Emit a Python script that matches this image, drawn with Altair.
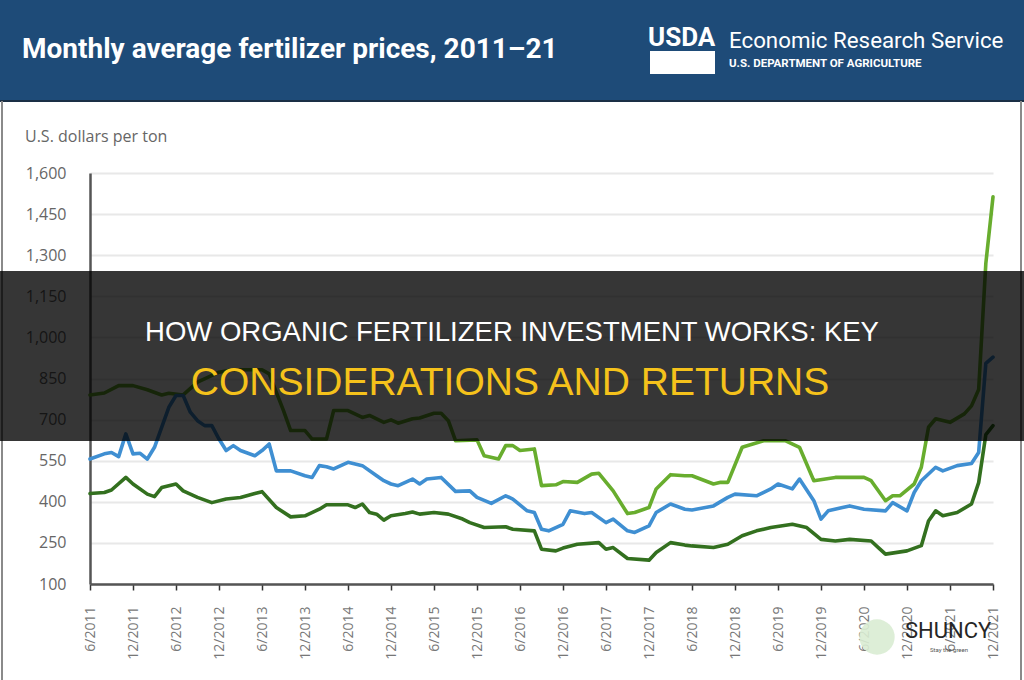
import altair as alt
import pandas as pd

# ---------------- data ----------------
series_names = ["Anhydrous ammonia", "Urea", "UAN28"]
series_colors = ["#68ad2e", "#3f8fd2", "#33701f"]

ammonia_dates = ["2011-06", "2011-08", "2011-10", "2011-12", "2012-02", "2012-04", "2012-05", "2012-07",
                 "2012-09", "2012-12", "2013-02", "2013-06", "2013-07", "2013-09", "2013-10", "2013-12",
                 "2014-01", "2014-03", "2014-04", "2014-06", "2014-08", "2014-09", "2014-11", "2014-12",
                 "2015-01", "2015-03", "2015-04", "2015-06", "2015-07", "2015-08", "2015-09", "2015-12",
                 "2016-01", "2016-03", "2016-04", "2016-05", "2016-06", "2016-08", "2016-09", "2016-11",
                 "2016-12", "2017-02", "2017-04", "2017-05", "2017-07", "2017-09", "2017-10", "2017-12",
                 "2018-01", "2018-03", "2018-05", "2018-06", "2018-09", "2018-10", "2018-11", "2019-01",
                 "2019-04", "2019-07", "2019-09", "2019-11", "2020-02", "2020-06", "2020-07", "2020-09",
                 "2020-10", "2020-11", "2021-01", "2021-02", "2021-03", "2021-04", "2021-06", "2021-08",
                 "2021-09", "2021-10", "2021-11", "2021-12"]
ammonia_values = [790, 797, 824, 824, 809, 790, 796, 790,
                  837, 873, 882, 882, 867, 733, 660, 660,
                  629, 629, 733, 733, 708, 715, 690, 699,
                  687, 703, 706, 723, 723, 696, 623, 626,
                  568, 556, 605, 605, 587, 593, 459, 462,
                  474, 471, 501, 504, 440, 357, 361, 379,
                  447, 499, 495, 495, 465, 471, 471, 599,
                  623, 623, 599, 477, 489, 489, 477, 404,
                  422, 422, 465, 526, 672, 703, 690, 721,
                  750, 810, 1270, 1513]

urea_dates = ["2011-06", "2011-08", "2011-09", "2011-10", "2011-11", "2011-12", "2012-01", "2012-02",
              "2012-03", "2012-05", "2012-06", "2012-07", "2012-08", "2012-09", "2012-10", "2012-11",
              "2012-12", "2013-01", "2013-02", "2013-03", "2013-05", "2013-06", "2013-07", "2013-08",
              "2013-10", "2013-12", "2014-01", "2014-02", "2014-03", "2014-04", "2014-06", "2014-08",
              "2014-10", "2014-11", "2014-12", "2015-01", "2015-03", "2015-04", "2015-05", "2015-07",
              "2015-09", "2015-11", "2015-12", "2016-02", "2016-04", "2016-05", "2016-07", "2016-08",
              "2016-09", "2016-10", "2016-12", "2017-01", "2017-03", "2017-04", "2017-06", "2017-07",
              "2017-09", "2017-10", "2017-12", "2018-01", "2018-03", "2018-05", "2018-06", "2018-09",
              "2018-11", "2018-12", "2019-03", "2019-05", "2019-06", "2019-08", "2019-09", "2019-11",
              "2019-12", "2020-01", "2020-03", "2020-04", "2020-06", "2020-09", "2020-10", "2020-12",
              "2021-01", "2021-02", "2021-04", "2021-05", "2021-07", "2021-09", "2021-10", "2021-11",
              "2021-12"]
urea_values = [556, 575, 580, 565, 648, 575, 577, 556,
               599, 745, 788, 788, 727, 696, 678, 678,
               629, 587, 605, 587, 568, 587, 611, 513,
               513, 495, 489, 532, 528, 520, 544, 532,
               495, 477, 465, 459, 483, 465, 483, 489,
               438, 440, 416, 394, 422, 410, 367, 361,
               300, 294, 318, 367, 357, 361, 324, 337,
               294, 288, 312, 361, 392, 373, 370, 385,
               416, 428, 422, 447, 465, 447, 483, 404,
               337, 367, 379, 385, 373, 367, 397, 367,
               434, 477, 526, 513, 532, 540, 580, 905,
               928]

uan_dates = ["2011-06", "2011-08", "2011-09", "2011-11", "2011-12", "2012-02", "2012-03", "2012-04",
             "2012-06", "2012-07", "2012-09", "2012-11", "2013-01", "2013-03", "2013-05", "2013-06",
             "2013-08", "2013-10", "2013-12", "2014-02", "2014-03", "2014-06", "2014-07", "2014-08",
             "2014-09", "2014-10", "2014-11", "2014-12", "2015-02", "2015-03", "2015-04", "2015-06",
             "2015-08", "2015-10", "2015-11", "2016-01", "2016-04", "2016-05", "2016-08", "2016-09",
             "2016-11", "2016-12", "2017-02", "2017-05", "2017-06", "2017-07", "2017-09", "2017-12",
             "2018-01", "2018-03", "2018-05", "2018-06", "2018-09", "2018-11", "2019-01", "2019-03",
             "2019-05", "2019-08", "2019-10", "2019-12", "2020-02", "2020-04", "2020-07", "2020-08",
             "2020-09", "2020-12", "2021-02", "2021-03", "2021-04", "2021-05", "2021-07", "2021-09",
             "2021-10", "2021-11", "2021-12"]
uan_values = [430, 434, 443, 489, 465, 428, 419, 452,
              465, 440, 416, 397, 410, 416, 430, 437,
              379, 345, 349, 373, 389, 389, 379, 392,
              361, 355, 333, 349, 357, 363, 355, 361,
              355, 337, 324, 306, 309, 300, 294, 227,
              221, 231, 245, 251, 227, 233, 193, 187,
              215, 251, 242, 239, 233, 245, 276, 294,
              306, 318, 306, 263, 257, 263, 257, 233,
              209, 221, 240, 330, 367, 349, 361, 392,
              470, 645, 678]

y_ticks = [100, 250, 400, 550, 700, 850, 1000, 1150, 1300, 1450, 1600]

title_text = "Monthly average fertilizer prices, 2011\u201321"
y_title = "U.S. dollars per ton"
overlay_line1 = "HOW ORGANIC FERTILIZER INVESTMENT WORKS: KEY"
overlay_line2 = "CONSIDERATIONS AND RETURNS"


def month_index(s):
    y, m = s.split("-")
    return (int(y) - 2011) * 12 + int(m) - 6


rows = []
for name, dates, vals in zip(series_names,
                             [ammonia_dates, urea_dates, uan_dates],
                             [ammonia_values, urea_values, uan_values]):
    for d, v in zip(dates, vals):
        rows.append({"series": name, "m": month_index(d), "price": v})
df = pd.DataFrame(rows)

one = pd.DataFrame({"k": [0]})

# plot area: left 90, top 173, width 903, height 411 (page is 1024x680)
W, H = 903, 411
PL, PT = 90, 173

label_font = "Open Sans"

lines = alt.Chart(df).mark_line(strokeWidth=3.6, strokeJoin="round", strokeCap="round").encode(
    x=alt.X("m:Q",
            scale=alt.Scale(domain=[0, 126], nice=False, zero=False),
            axis=alt.Axis(values=list(range(0, 127, 6)),
                          labelExpr="(datum.value % 12 == 0 ? '6/' : '12/') + (2011 + floor((datum.value + 5) / 12))",
                          labelAngle=-90, labelFont=label_font, labelFontSize=14, labelColor="#777777",
                          labelPadding=16, tickSize=6, tickColor="#333333", tickWidth=1.5,
                          domainColor="#555555", domainWidth=2.5, grid=False, title=None)),
    y=alt.Y("price:Q",
            scale=alt.Scale(domain=[100, 1600], nice=False, zero=False),
            axis=alt.Axis(values=y_ticks, format=",d", labelFont=label_font, labelFontSize=16,
                          labelColor="#666666", labelPadding=24, ticks=False, tickSize=0,
                          domainColor="#555555", domainWidth=2.5,
                          grid=True, gridColor="#e8e8e8", gridWidth=2, title=None)),
    color=alt.Color("series:N", scale=alt.Scale(domain=series_names, range=series_colors), legend=None),
)

header = alt.Chart(one).mark_rect(color="#1e4b78").encode(
    x=alt.value(-PL), x2=alt.value(1024 - PL), y=alt.value(-PT), y2=alt.value(101 - PT))

header_line = alt.Chart(one).mark_rule(color="#1a2f45", strokeWidth=2).encode(
    x=alt.value(-PL), x2=alt.value(1024 - PL), y=alt.value(101 - PT))

title = alt.Chart(one).mark_text(align="left", baseline="middle", font="Roboto", fontWeight="bold",
                                 fontSize=28, color="white").encode(
    x=alt.value(22 - PL), y=alt.value(50 - PT), text=alt.value(title_text))

usda_box = alt.Chart(one).mark_rect(color="white").encode(
    x=alt.value(650 - PL), x2=alt.value(715 - PL), y=alt.value(51 - PT), y2=alt.value(74 - PT))

usda = alt.Chart(one).mark_text(align="left", baseline="middle", font="Roboto", fontWeight="bold",
                                fontSize=26, color="white").encode(
    x=alt.value(648 - PL), y=alt.value(38 - PT), text=alt.value("USDA"))

ers = alt.Chart(one).mark_text(align="left", baseline="middle", font="Roboto",
                               fontSize=22.3, color="white").encode(
    x=alt.value(729 - PL), y=alt.value(41 - PT), text=alt.value("Economic Research Service"))

dept = alt.Chart(one).mark_text(align="left", baseline="middle", font="Roboto", fontWeight="bold",
                                fontSize=11.5, color="white").encode(
    x=alt.value(729 - PL), y=alt.value(64 - PT), text=alt.value("U.S. DEPARTMENT OF AGRICULTURE"))

ytitle = alt.Chart(one).mark_text(align="left", baseline="middle", font=label_font,
                                  fontSize=16, color="#666666").encode(
    x=alt.value(25 - PL), y=alt.value(137 - PT), text=alt.value(y_title))

borders = alt.Chart(pd.DataFrame({"bx": [2 - PL, 1021 - PL]})).mark_rule(
    color="#8a8a8a", strokeWidth=2).encode(
    x=alt.X("bx:Q", scale=None), y=alt.value(101 - PT), y2=alt.value(680 - PT))

overlay = alt.Chart(one).mark_rect(color="black", opacity=0.79).encode(
    x=alt.value(-PL), x2=alt.value(1024 - PL), y=alt.value(271 - PT), y2=alt.value(441 - PT))

ov1 = alt.Chart(one).mark_text(align="center", baseline="middle", font="Liberation Sans",
                               fontSize=27.5, color="white").encode(
    x=alt.value(512 - PL), y=alt.value(333 - PT), text=alt.value(overlay_line1))

ov2 = alt.Chart(one).mark_text(align="center", baseline="middle", font="Liberation Sans",
                               fontSize=39, color="#f5c21b").encode(
    x=alt.value(510 - PL), y=alt.value(383 - PT), text=alt.value(overlay_line2))

logo = alt.Chart(one).mark_circle(color="#d9ecd3", opacity=0.9, size=1250).encode(
    x=alt.value(877 - PL), y=alt.value(637 - PT))

shuncy = alt.Chart(one).mark_text(align="left", baseline="middle", font="Roboto",
                                  fontSize=22, color="#262626").encode(
    x=alt.value(905 - PL), y=alt.value(631 - PT), text=alt.value("SHUNCY"))

tagline = alt.Chart(one).mark_text(align="left", baseline="middle", font="Roboto",
                                   fontSize=6, color="#555555").encode(
    x=alt.value(930 - PL), y=alt.value(650 - PT), text=alt.value("Stay the green"))

chart = alt.layer(
    header, header_line, title, usda_box, usda, ers, dept, ytitle, borders,
    lines, overlay, ov1, ov2, logo, shuncy, tagline
).properties(
    width=W, height=H,
    padding={"left": PL, "top": PT, "right": 1024 - PL - W, "bottom": 680 - PT - H},
    autosize=alt.AutoSizeParams(type="none"),
    background="white",
).configure_view(strokeWidth=0)

chart.save("out.html", embed_options={"renderer": "svg", "actions": False})
